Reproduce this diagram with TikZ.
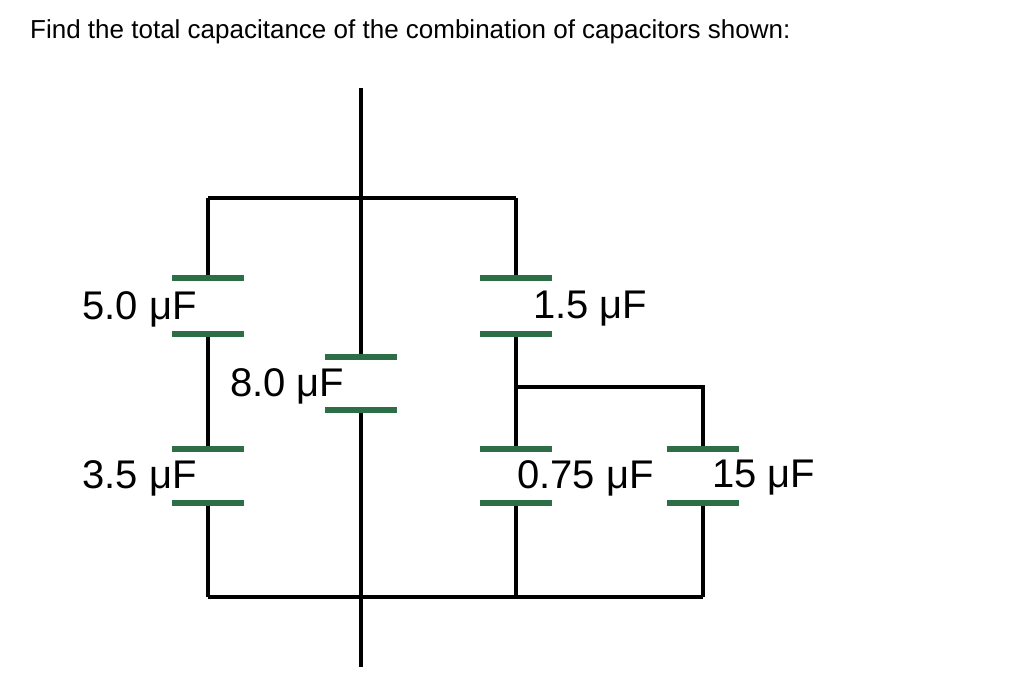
\documentclass[tikz,border=0pt]{standalone}
\usepackage{fontspec}
\setmainfont{Liberation Sans}
\begin{document}
\begin{tikzpicture}[x=1pt,y=-1pt,
 wire/.style={line width=3.2pt,black},
 plate/.style={line width=5.5pt,draw={rgb,255:red,45;green,110;blue,70}},
 lbl/.style={font=\fontsize{40}{44}\selectfont,inner sep=0pt}]
\useasboundingbox (0,0) rectangle (1024,685);
\node[anchor=west,font=\fontsize{26}{30}\selectfont,inner sep=0] (t) at (30,32) {Find the total capacitance of the combination of capacitors shown:};
\coordinate (top) at (361,88); \coordinate (bot) at (361,667);
\coordinate (tl) at (208,198); \coordinate (tc) at (361,198); \coordinate (tr) at (516,198);
\coordinate (bl) at (208,597); \coordinate (bc) at (361,597); \coordinate (br) at (516,597); \coordinate (bf) at (703,597);
\coordinate (j) at (516,387); \coordinate (jf) at (703,387);
\draw[wire] (top)--(361,357) (361,410)--(bot);
\draw[wire] (tl)--(tr);
\draw[wire] (bl)--(bf);
\draw[wire] (tl)--(208,278) (208,334)--(208,449) (208,503)--(bl);
\draw[wire] (tr)--(516,278) (516,334)--(j)--(516,449) (516,503)--(br);
\draw[wire] (j)--(jf)--(703,449) (703,503)--(bf);
\foreach \x/\y in {208/278,208/334,208/449,208/503,361/357,361/410,516/278,516/334,516/449,516/503,703/449,703/503}
  \draw[plate] (\x-36,\y)--(\x+36,\y);
\node[lbl,anchor=east] (c1) at (197,309) {5.0 μF};
\node[lbl,anchor=east] (c2) at (197,478) {3.5 μF};
\node[lbl,anchor=west] (c3) at (230,386) {8.0 μF};
\node[lbl,anchor=west] (c4) at (533,309) {1.5 μF};
\node[lbl,anchor=west] (c5) at (517,478) {0.75 μF};
\node[lbl,anchor=west] (c6) at (712,478) {15 μF};
\end{tikzpicture}
\end{document}
